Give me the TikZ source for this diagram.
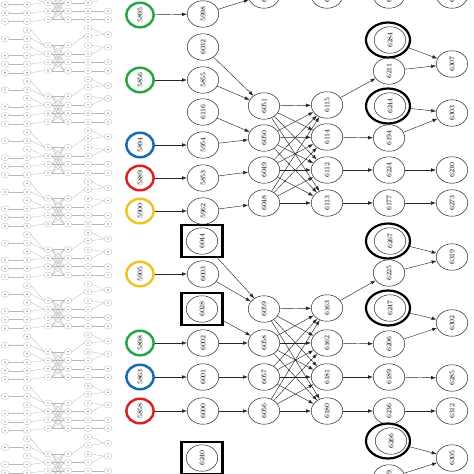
\documentclass[tikz,border=0pt]{standalone}
\usetikzlibrary{shapes.geometric,arrows.meta}
\definecolor{seedgreen}{RGB}{40,165,75}
\definecolor{seedblue}{RGB}{25,105,175}
\definecolor{seedred}{RGB}{215,35,35}
\definecolor{seedyellow}{RGB}{238,195,35}
\begin{document}
\begin{tikzpicture}[x=1pt,y=-1pt,
  plain/.style={ellipse, draw=black!85, line width=0.5pt, rotate=90, minimum width=26.5pt, minimum height=31.5pt, inner sep=0pt, font=\fontsize{7}{8}\selectfont},
  seed/.style={plain, draw=#1, line width=2.5pt, minimum width=24.5pt, minimum height=27.5pt},
  ring/.style={ellipse, draw, line width=2.2pt, minimum width=44pt, minimum height=35pt, inner sep=0pt},
  frame/.style={rectangle, draw, line width=2.2pt, minimum width=41pt, minimum height=32pt, inner sep=0pt},
  link/.style={-{Latex[length=5pt,width=3.6pt]}, black!85, line width=0.45pt}]
  \useasboundingbox (0,0) rectangle (474,474);
  \clip (0,0) rectangle (474,474);

  % overview strip on the left
  \begin{scope}[black!28, line width=0.3pt]
  \foreach \k in {0,...,9} {
    \begin{scope}[shift={(0,-21+51.1*\k)}]
      \foreach \px/\py in {5/8.6, 5/25.5, 5/34, 5/42.6,
          27/0, 27/8.6, 27/17, 27/25.5, 27/34, 27/42.6,
          48/15, 48/23.7, 48/32, 48/40.6, 68/15, 68/23.7, 68/32, 68/40.6,
          88/-1.8, 88/6.2, 88/15.3, 88/23.7, 88/32, 88/40.6,
          108/4.4, 108/17.2, 108/32, 108/40.6} {
        \draw (\px,\py) ellipse [x radius=4pt, y radius=3pt];
        \fill[black!45] (\px,\py) circle (0.8pt);
      }
      \foreach \a in {8.6,25.5,34,42.6} \draw (9,\a) -- (23,\a);
      \foreach \a/\b in {0/15, 8.6/15, 17/23.7, 25.5/23.7, 34/32, 42.6/40.6} \draw (31,\a) -- (44,\b);
      \foreach \a in {15,23.7,32,40.6} \foreach \b in {15,23.7,32,40.6} \draw (52,\a) -- (64,\b);
      \foreach \a/\b in {15/6.2, 23.7/23.7, 32/32, 40.6/40.6} \draw (72,\a) -- (84,\b);
      \foreach \a/\b in {-1.8/4.4, 6.2/4.4, 15.3/17.2, 23.7/17.2, 32/32, 40.6/40.6} \draw (92,\a) -- (104,\b);
    \end{scope}
  }
  \end{scope}

  % seeds
  \foreach \n/\y/\c in {5895/15/seedgreen, 5856/80/seedgreen, 5894/145/seedblue, 5889/178/seedred,
      5900/211/seedyellow, 5905/274/seedyellow, 5898/343/seedgreen, 5863/377/seedblue, 5858/411/seedred}
    \node[seed=\c] (n\n) at (140,\y) {\n};

  % boxed and ringed nodes
  \foreach \n/\y in {6044/241, 6028/309, 6240/458}
    \node[frame] (b\n) at (202,\y) {};
  \foreach \n/\y in {6284/40, 6244/106, 6267/241, 6247/308, 6266/441}
    \node[ring] (r\n) at (388,\y) {};

  \foreach \n/\x/\y in {5998/203/14, 6032/203/47, 5855/203/80, 6116/203/112, 5954/203/145, 5853/203/178,
      5962/203/211, 6044/202/241, 6003/203/274, 6028/202/309, 6002/203/343, 6001/203/377, 6000/203/411, 6240/202/458,
      6045/264/-5, 6051/264/106, 6050/264/138, 6049/264/170, 6048/264/203,
      6059/264/309, 6058/264/343, 6057/264/377, 6056/264/411,
      6110/327/-5, 6115/327/105, 6114/327/137, 6112/327/170, 6113/327/203,
      6163/327/308, 6162/327/343, 6181/327/377, 6180/327/411,
      6229/389/-5, 6284/390/40, 6211/389/71, 6244/390/106, 6194/389/138, 6224/389/170, 6177/389/203,
      6267/390/241, 6225/389/273, 6247/390/308, 6206/389/344, 6189/389/377, 6236/389/411, 6266/391/441, 6259/389/478,
      6306/452/-5, 6307/452/64, 6303/452/113, 6230/452/170, 6273/452/203,
      6319/452/257, 6302/452/323, 6285/452/378, 6312/452/411, 6305/452/458}
    \node[plain] (n\n) at (\x,\y) {\n};

  \coordinate (nextgroup) at (262,520);

  % connectors
  \foreach \a/\b in {n5895/n5998, n5856/n5855, n5894/n5954, n5889/n5853, n5900/n5962,
      n5905/n6003, n5898/n6002, n5863/n6001, n5858/n6000,
      n5998/n6045, n6032/n6051, n5855/n6051, n6116/n6050, n5954/n6050, n5853/n6049, n5962/n6048,
      b6044/n6059, n6003/n6059, b6028/n6058, n6002/n6058, n6001/n6057, n6000/n6056, b6240/nextgroup,
      n6115/n6211, n6114/n6194, n6112/n6224, n6113/n6177,
      n6163/n6225, n6162/n6206, n6181/n6189, n6180/n6236,
      r6284/n6307, n6211/n6307, r6244/n6303, n6194/n6303, n6224/n6230, n6177/n6273,
      r6267/n6319, n6225/n6319, r6247/n6302, n6206/n6302, n6189/n6285, n6236/n6312,
      r6266/n6305, n6259/n6305}
    \draw[link] (\a) -- (\b);
  \foreach \a in {6051,6050,6049,6048}
    \foreach \b in {6115,6114,6112,6113}
      \draw[link] (n\a) -- (n\b);
  \foreach \a in {6059,6058,6057,6056}
    \foreach \b in {6163,6162,6181,6180}
      \draw[link] (n\a) -- (n\b);
\end{tikzpicture}
\end{document}
